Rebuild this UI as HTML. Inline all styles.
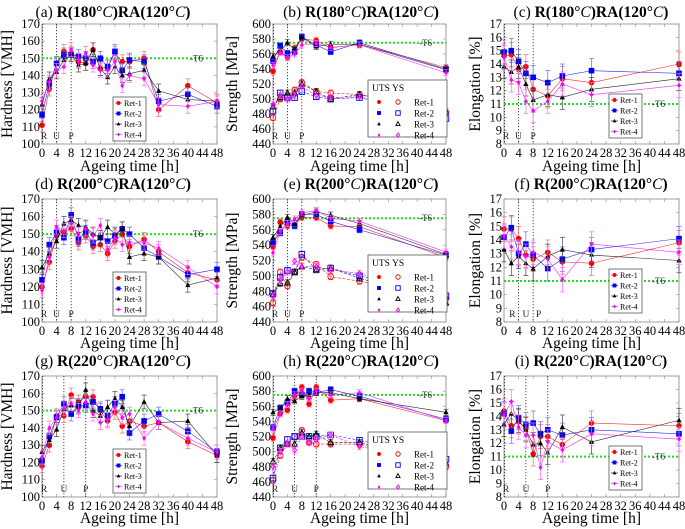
<!DOCTYPE html>
<html><head><meta charset="utf-8">
<style>
html,body{margin:0;padding:0;background:#fff;}
svg{display:block;}
text{font-family:"Liberation Serif","DejaVu Serif",serif;}
</style></head>
<body>
<svg id="fig" width="685" height="529" viewBox="0 0 685 529" xmlns="http://www.w3.org/2000/svg" font-family="Liberation Serif, serif"></svg>
<script>
// ---------- data ----------
const tHard = [0,2,4,6,8,10,12,14,16,18,20,22,24,28,32,40,48];
const tTen = [0,2,4,6,8,12,16,24,48];
const tTenH = [0,2,4,6,8,10,12,16,24,48];
const seriesNames = ["Ret-1","Ret-2","Ret-3","Ret-4"];
const tickHard = [100,110,120,130,140,150,160,170];
const tickStr = [440,460,480,500,520,540,560,580,600];
const tickElo = [8,9,10,11,12,13,14,15,16,17];
const tickX = [0,4,8,12,16,20,24,28,32,36,40,44,48];
const t6Values = [150,575,11];

const a1=[111,132,147,154,153,148,147,155,144,145,153,148,148,150,120,134,124];
const a2=[117,135,147,152,152,151,150,148,150,145,154,143,149,148,125,129,122];
const a3=[123,138,142,149,152,146,147,155,144,139,145,140,141,143,131,126,125];
const a4=[125,136,143,145,155,149,153,146,143,143,148,134,140,138,123,122,125];

const bU1=[537,563,556,568,580,578,568,573,542];
const bU2=[551,571,561,563,583,572,563,575,540];
const bU3=[557,564,575,566,582,570,573,573,539];
const bU4=[545,562,555,560,572,574,569,572,535];
const bY1=[475,500,504,512,522,510,508,506,482];
const bY2=[484,508,502,502,510,503,500,502,474];
const bY3=[490,502,508,508,520,510,500,506,483];
const bY4=[492,505,500,505,517,505,502,503,478];

const c1=[14.6,14.7,13.6,13.8,12.1,11.6,12.9,12.6,14.0];
const c2=[14.9,15.0,14.2,13.3,13.0,12.6,13.1,13.5,13.3];
const c3=[13.8,13.4,13.8,12.5,11.3,11.7,11.5,12.1,12.9];
const c4=[14.5,12.8,12.6,11.2,10.5,11.2,12.5,11.7,12.4];

const d1=[120,134,149,151,153,145,149,143,144,139,146,150,143,147,140,128,124];
const d2=[124,144,151,148,161,147,151,145,148,146,149,153,150,142,137,127,130];
const d3=[131,139,146,156,158,155,154,150,148,154,150,153,137,139,137,121,125];
const d4=[118,137,154,152,156,150,153,149,155,141,148,144,145,145,142,131,120];

const eU1=[538,570,565,566,576,576,565,564,524];
const eU2=[544,556,570,565,580,580,571,560,527];
const eU3=[550,564,576,568,579,583,579,568,528];
const eU4=[530,558,568,574,582,585,575,571,531];
const eY1=[465,505,487,505,524,515,499,493,470];
const eY2=[477,498,507,505,528,508,510,500,474];
const eY3=[476,490,491,505,512,508,510,497,465];
const eY4=[474,495,505,519,512,512,508,503,472];

const f1=[14.8,14.8,14.1,12.9,12.6,13.1,12.4,12.3,13.8];
const f2=[14.2,14.9,13.0,13.7,12.9,11.9,12.6,13.3,14.1];
const f3=[13.3,12.3,12.8,12.3,11.9,12.8,13.3,12.9,12.5];
const f4=[14.3,13.5,13.1,12.8,13.1,12.6,11.1,13.7,13.1];

const g1=[118,130,147,147,159,155,158,158,150,144,149,141,144,141,143,132,124];
const g2=[121,135,146,154,148,153,153,155,151,147,154,158,137,144,148,138,126];
const g3=[126,133,139,151,153,152,162,150,147,152,157,152,141,155,143,144,124];
const g4=[123,140,146,151,154,150,155,148,143,145,152,146,148,134,143,134,126];

const hU1=[518,550,555,573,585,563,585,568,570,541];
const hU2=[532,558,565,580,575,580,578,582,573,543];
const hU3=[552,557,570,567,573,575,578,578,570,552];
const hU4=[530,550,562,575,580,570,580,575,578,541];
const hY1=[462,495,510,520,528,512,510,510,510,480];
const hY2=[465,505,516,520,520,520,520,522,515,490];
const hY3=[487,505,510,510,525,520,523,512,512,485];
const hY4=[480,500,510,502,520,512,516,522,507,483];

const i1=[14.4,13.3,13.6,13.1,11.2,12.5,12.5,11.9,13.5,13.3];
const i2=[14.2,12.9,13.9,13.4,13.5,12.7,13.0,12.6,13.0,12.7];
const i3=[13.4,14.2,13.7,13.0,11.9,12.0,11.3,13.2,12.1,13.7];
const i4=[14.1,15.1,13.2,12.6,12.6,10.2,12.1,11.5,12.7,12.3];

const markerLines = [[0,4,8],[0,4,8],[0,4,8],[0,4,8],[0,4,8],[4,8],[0,6,12],[0,6,12],[0,6,12]];
const markerLabelX = [[0.3,4,8],[0.3,4,8],[0.3,4,8],[0.3,4,8],[0.3,4,8],[2,6,9.5],[0.3,6,12],[0.3,6,12],[0.3,6,12]];

// ---------- drawing ----------
const svg=document.getElementById('fig');
const NS="http://www.w3.org/2000/svg";
const FONT='"Liberation Serif", "DejaVu Serif", serif';
const colors=["#ff0000","#0000ff","#000000","#ff00ff"];
const errCols=["#ff6666","#6666ff","#444444","#ff66ff"];
function el(tag,attrs,parent){const e=document.createElementNS(NS,tag);for(const k in attrs)e.setAttribute(k,attrs[k]);(parent||svg).appendChild(e);return e;}
function txt(s,attrs,parent){const e=el('text',attrs,parent);e.setAttribute('font-family',FONT);e.textContent=s;return e;}

function marker(g,k,x,y,hollow,sc){
  sc=sc||1;
  const c=colors[k];const fill=hollow?'none':c;const sw=hollow?0.9:0;
  let m;
  if(k===0) m=el('circle',{cx:x,cy:y,r:2.8*sc,fill:fill,stroke:c,'stroke-width':sw},g);
  else if(k===1) m=el('rect',{x:x-2.8*sc,y:y-2.8*sc,width:5.6*sc,height:5.6*sc,fill:fill,stroke:c,'stroke-width':sw},g);
  else if(k===2) m=el('polygon',{points:`${x},${y-3*sc} ${x-2.6*sc},${y+2*sc} ${x+2.6*sc},${y+2*sc}`,fill:fill,stroke:c,'stroke-width':sw},g);
  else m=el('polygon',{points:`${x},${y-2.6*sc} ${x+2*sc},${y} ${x},${y+2.6*sc} ${x-2*sc},${y}`,fill:fill,stroke:c,'stroke-width':sw},g);
  
  
}

const cols=[{x0:42,x1:217,tc:113},{x0:273,x1:446,tc:361},{x0:504,x1:679,tc:591}];
const rows=[{top:24,bot:144,ty:17,xl:171},{top:199,bot:322,ty:189,xl:348},{top:376,bot:497,ty:366,xl:523}];
const letters=['a','b','c','d','e','f','g','h','i'];
const temps=['180','200','220'];
const kinds=[
 {ticks:tickHard,label:'Hardness [VMH]',t6:t6Values[0],err:4},
 {ticks:tickStr,label:'Strength [MPa]',t6:t6Values[1],err:4},
 {ticks:tickElo,label:'Elongation [%]',t6:t6Values[2],err:0.9}
];
const panelData=[
 {t:tHard,s:[a1,a2,a3,a4]},{t:tTen,s:[bU1,bU2,bU3,bU4],y:[bY1,bY2,bY3,bY4]},{t:tTen,s:[c1,c2,c3,c4]},
 {t:tHard,s:[d1,d2,d3,d4]},{t:tTen,s:[eU1,eU2,eU3,eU4],y:[eY1,eY2,eY3,eY4]},{t:tTen,s:[f1,f2,f3,f4]},
 {t:tHard,s:[g1,g2,g3,g4]},{t:tTenH,s:[hU1,hU2,hU3,hU4],y:[hY1,hY2,hY3,hY4]},{t:tTenH,s:[i1,i2,i3,i4]}
];

for(let r=0;r<3;r++)for(let c=0;c<3;c++){
  const p=r*3+c, C=cols[c], R=rows[r], K=kinds[c], D=panelData[p];
  const ymin=K.ticks[0], ymax=K.ticks[K.ticks.length-1];
  const X=v=>C.x0+(v/48)*(C.x1-C.x0);
  const Y=v=>R.bot-(v-ymin)/(ymax-ymin)*(R.bot-R.top);
  const g=el('g',{});
  
  
  const tt=txt('',{x:C.tc,y:R.ty,'text-anchor':'middle','font-size':15.5},g);
  tt.innerHTML=`(${letters[p]}) <tspan font-weight="bold">R(${temps[r]}°</tspan><tspan font-style="italic">C</tspan><tspan font-weight="bold">)RA(120°</tspan><tspan font-style="italic">C</tspan><tspan font-weight="bold">)</tspan>`;
  
  
  const bx=el('rect',{x:C.x0,y:R.top,width:C.x1-C.x0,height:R.bot-R.top,fill:'none',stroke:'#888','stroke-width':0.8},g);
  
  
  const ax=el('g',{'font-size':12.5},g);
  
  
  tickX.forEach(v=>{
    el('line',{x1:X(v),x2:X(v),y1:R.bot,y2:R.bot-3,stroke:'#888','stroke-width':0.6},ax);
    el('line',{x1:X(v),x2:X(v),y1:R.top,y2:R.top+3,stroke:'#888','stroke-width':0.6},ax);
    txt(String(v),{x:X(v),y:R.bot+13,'text-anchor':'middle','font-size':12.5},ax);
  });
  const ay=el('g',{'font-size':12.5},g);
  
  
  K.ticks.forEach(v=>{
    el('line',{x1:C.x0,x2:C.x0+3,y1:Y(v),y2:Y(v),stroke:'#888','stroke-width':0.6},ay);
    el('line',{x1:C.x1,x2:C.x1-3,y1:Y(v),y2:Y(v),stroke:'#888','stroke-width':0.6},ay);
    txt(String(v),{x:C.x0-2,y:Y(v)+4,'text-anchor':'end','font-size':12.5},ay);
  });
  const xl=txt('Ageing time [h]',{x:(C.x0+C.x1)/2,y:R.xl,'text-anchor':'middle','font-size':15.5},g);
  
  
  const ylx=C.x0-(c===1?36:c===0?30:24), ylc=(R.top+R.bot)/2;
  const yl=txt(K.label,{x:ylx,y:ylc,'text-anchor':'middle','font-size':15.5,transform:`rotate(-90 ${ylx} ${ylc})`},g);
  
  
  markerLines[p].forEach(v=>{
    const l=el('line',{x1:X(v)+(v===0?0.5:0),x2:X(v)+(v===0?0.5:0),y1:R.top,y2:R.bot,stroke:'#222','stroke-width':0.8,'stroke-dasharray':'1.2,1.8'},g);
    
    
  });
  ['R','U','P'].forEach((s,i)=>{
    const l=txt(s,{x:X(markerLabelX[p][i])+(i===0?1:0),y:R.bot-5,'text-anchor':'middle','font-size':9.5,fill:'#222'},g);
    
    
  });
  const t6=el('line',{x1:C.x0,x2:C.x1,y1:Y(K.t6),y2:Y(K.t6),stroke:'#22dd22','stroke-width':2,'stroke-dasharray':'2,2'},g);
  
  
  const t6l=txt('-T6',{x:C.x1-27,y:Y(K.t6)+3,'font-size':9,fill:'#222'},g);
  
  
  const groups=D.y?[D.s,D.y]:[D.s];
  groups.forEach((grp,gi)=>{
    grp.forEach((vals,k)=>{
      const sg=el('g',{},g);
      
      
      const pts=vals.map((v,j)=>X(D.t[j])+','+Y(v)).join(' ');
      el('polyline',{points:pts,fill:'none',stroke:colors[k],'stroke-width':0.6,'stroke-opacity':0.85,'stroke-dasharray':gi?'3,1.5':'none'},sg);
      vals.forEach((v,j)=>{
        const x=X(D.t[j]),y1=Y(v+K.err),y2=Y(v-K.err);
        el('line',{x1:x,x2:x,y1:y1,y2:y2,stroke:errCols[k],'stroke-width':0.7},sg);
        el('line',{x1:x-2.5,x2:x+2.5,y1:y1,y2:y1,stroke:errCols[k],'stroke-width':0.7},sg);
        el('line',{x1:x-2.5,x2:x+2.5,y1:y2,y2:y2,stroke:errCols[k],'stroke-width':0.7},sg);
      });
      vals.forEach((v,j)=>marker(sg,k,X(D.t[j]),Y(v),gi===1));
    });
  });
  const lg=el('g',{},g);
  
  
  if(c===1){
    const lx=C.x0+95, ly=R.top+56;
    el('rect',{x:lx,y:ly,width:79,height:57,fill:'#fff',stroke:'#555','stroke-width':0.8},lg);
    txt('UTS YS',{x:lx+4,y:ly+11,'font-size':9.5},lg);
    seriesNames.forEach((n,k)=>{
      const yy=ly+22+k*11;
      marker(lg,k,lx+11,yy,false,0.7);
      marker(lg,k,lx+30,yy,true,0.8);
      const e=txt(n,{x:lx+46,y:yy+3.5,'font-size':9},lg);
      
      
    });
  } else {
    const lx=c===0?C.x0+71:C.x0+105, ly=c===0?R.top+73:R.top+70;
    el('rect',{x:lx,y:ly,width:33,height:44,fill:'#fff',stroke:'#555','stroke-width':0.8},lg);
    seriesNames.forEach((n,k)=>{
      const yy=ly+6+k*10.5;
      el('line',{x1:lx+2,x2:lx+9,y1:yy,y2:yy,stroke:colors[k],'stroke-width':0.6},lg);
      marker(lg,k,lx+5.5,yy,false,0.7);
      const e=txt(n,{x:lx+11,y:yy+3,'font-size':8},lg);
      
      
    });
  }
}
</script>
</body></html>
